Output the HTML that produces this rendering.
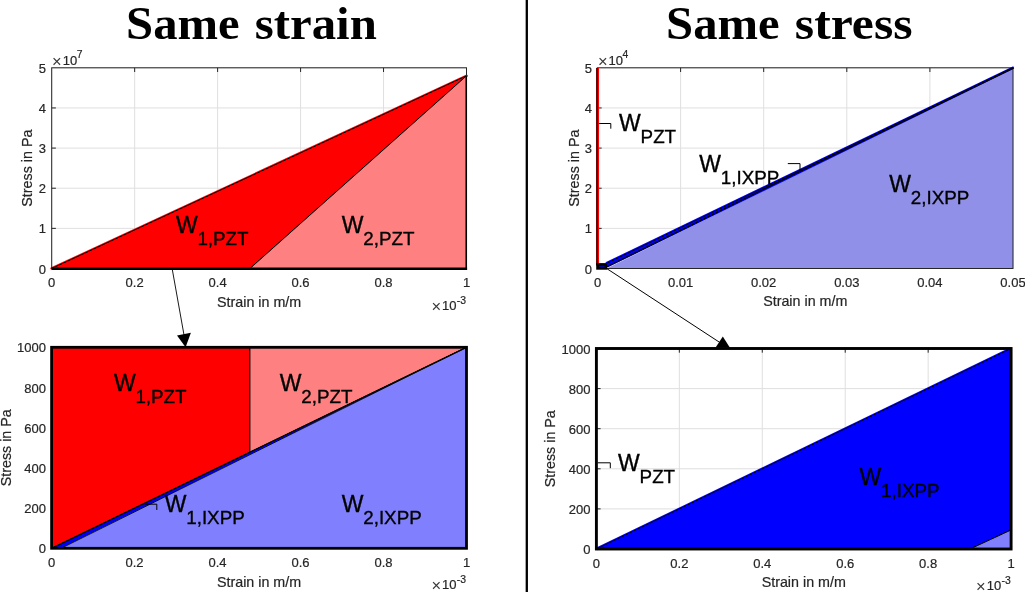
<!DOCTYPE html>
<html><head><meta charset="utf-8"><title>Same strain / Same stress</title>
<style>
html,body{margin:0;padding:0;background:#fff;}
body{width:1025px;height:592px;overflow:hidden;}
svg{display:block;}
.t{font-family:"Liberation Sans",sans-serif;font-size:13px;fill:#262626;stroke:#262626;stroke-width:0.2px;}
.l{font-family:"Liberation Sans",sans-serif;font-size:14.3px;fill:#262626;stroke:#262626;stroke-width:0.2px;}
.w{font-family:"Liberation Sans",sans-serif;font-size:23px;fill:#000;stroke:#000;stroke-width:0.35px;}
.h{font-family:"Liberation Serif","DejaVu Serif",serif;font-weight:bold;font-size:46.5px;fill:#000;}
</style></head><body>
<svg width="1025" height="592" viewBox="0 0 1025 592">
<rect width="1025" height="592" fill="#fff"/>
<text y="38.6" class="h"><tspan x="126.1" textLength="113.6" lengthAdjust="spacingAndGlyphs">Same</tspan> <tspan x="254.8" textLength="122" lengthAdjust="spacingAndGlyphs">strain</tspan></text>
<text y="38.6" class="h"><tspan x="666.1" textLength="113.6" lengthAdjust="spacingAndGlyphs">Same</tspan> <tspan x="794.8" textLength="117.8" lengthAdjust="spacingAndGlyphs">stress</tspan></text>
<rect x="525.65" y="0" width="2.3" height="592" fill="#000"/>
<line x1="51.7" y1="67.8" x2="51.7" y2="268.5" stroke="#dfdfdf" stroke-width="1"/>
<line x1="134.66" y1="67.8" x2="134.66" y2="268.5" stroke="#dfdfdf" stroke-width="1"/>
<line x1="217.62" y1="67.8" x2="217.62" y2="268.5" stroke="#dfdfdf" stroke-width="1"/>
<line x1="300.58" y1="67.8" x2="300.58" y2="268.5" stroke="#dfdfdf" stroke-width="1"/>
<line x1="383.54" y1="67.8" x2="383.54" y2="268.5" stroke="#dfdfdf" stroke-width="1"/>
<line x1="466.5" y1="67.8" x2="466.5" y2="268.5" stroke="#dfdfdf" stroke-width="1"/>
<line x1="51.7" y1="268.5" x2="466.5" y2="268.5" stroke="#dfdfdf" stroke-width="1"/>
<line x1="51.7" y1="228.36" x2="466.5" y2="228.36" stroke="#dfdfdf" stroke-width="1"/>
<line x1="51.7" y1="188.22" x2="466.5" y2="188.22" stroke="#dfdfdf" stroke-width="1"/>
<line x1="51.7" y1="148.08" x2="466.5" y2="148.08" stroke="#dfdfdf" stroke-width="1"/>
<line x1="51.7" y1="107.94" x2="466.5" y2="107.94" stroke="#dfdfdf" stroke-width="1"/>
<line x1="51.7" y1="67.8" x2="466.5" y2="67.8" stroke="#dfdfdf" stroke-width="1"/>
<line x1="134.66" y1="268.5" x2="134.66" y2="264.3" stroke="#262626" stroke-width="1"/>
<line x1="134.66" y1="67.8" x2="134.66" y2="72" stroke="#262626" stroke-width="1"/>
<line x1="217.62" y1="268.5" x2="217.62" y2="264.3" stroke="#262626" stroke-width="1"/>
<line x1="217.62" y1="67.8" x2="217.62" y2="72" stroke="#262626" stroke-width="1"/>
<line x1="300.58" y1="268.5" x2="300.58" y2="264.3" stroke="#262626" stroke-width="1"/>
<line x1="300.58" y1="67.8" x2="300.58" y2="72" stroke="#262626" stroke-width="1"/>
<line x1="383.54" y1="268.5" x2="383.54" y2="264.3" stroke="#262626" stroke-width="1"/>
<line x1="383.54" y1="67.8" x2="383.54" y2="72" stroke="#262626" stroke-width="1"/>
<line x1="51.7" y1="228.36" x2="55.9" y2="228.36" stroke="#262626" stroke-width="1"/>
<line x1="466.5" y1="228.36" x2="462.3" y2="228.36" stroke="#262626" stroke-width="1"/>
<line x1="51.7" y1="188.22" x2="55.9" y2="188.22" stroke="#262626" stroke-width="1"/>
<line x1="466.5" y1="188.22" x2="462.3" y2="188.22" stroke="#262626" stroke-width="1"/>
<line x1="51.7" y1="148.08" x2="55.9" y2="148.08" stroke="#262626" stroke-width="1"/>
<line x1="466.5" y1="148.08" x2="462.3" y2="148.08" stroke="#262626" stroke-width="1"/>
<line x1="51.7" y1="107.94" x2="55.9" y2="107.94" stroke="#262626" stroke-width="1"/>
<line x1="466.5" y1="107.94" x2="462.3" y2="107.94" stroke="#262626" stroke-width="1"/>
<line x1="51.7" y1="268.5" x2="466.5" y2="75.83" stroke="#ff0000" stroke-width="2.6" stroke-linecap="round"/>
<polygon points="51.7,268.5 466.5,75.83 249.97,268.5" fill="#ff0000" stroke="#000" stroke-width="1.0" stroke-linejoin="miter"/>
<polygon points="249.97,268.5 466.5,75.83 466.5,268.5" fill="#ff8080" stroke="#000" stroke-width="1.0" stroke-linejoin="miter"/>
<rect x="51.7" y="67.8" width="414.8" height="200.7" fill="none" stroke="#262626" stroke-width="1"/>
<line x1="51.7" y1="268.8" x2="467.1" y2="268.8" stroke="#000" stroke-width="2.6"/>
<line x1="466.25" y1="76.33" x2="466.25" y2="270" stroke="#000" stroke-width="1.6"/>
<text x="51.7" y="287.3" class="t" text-anchor="middle">0</text>
<text x="134.66" y="287.3" class="t" text-anchor="middle">0.2</text>
<text x="217.62" y="287.3" class="t" text-anchor="middle">0.4</text>
<text x="300.58" y="287.3" class="t" text-anchor="middle">0.6</text>
<text x="383.54" y="287.3" class="t" text-anchor="middle">0.8</text>
<text x="466.5" y="287.3" class="t" text-anchor="middle">1</text>
<text x="46" y="273.5" class="t" text-anchor="end">0</text>
<text x="46" y="233.36" class="t" text-anchor="end">1</text>
<text x="46" y="193.22" class="t" text-anchor="end">2</text>
<text x="46" y="153.08" class="t" text-anchor="end">3</text>
<text x="46" y="112.94" class="t" text-anchor="end">4</text>
<text x="46" y="72.8" class="t" text-anchor="end">5</text>
<text x="259.1" y="306.6" class="l" text-anchor="middle">Strain in m/m</text>
<text transform="translate(32 168.15) rotate(-90)" class="l" text-anchor="middle">Stress in Pa</text>
<text y="64.7" class="t"><tspan x="52.1" dy="2.2" font-size="16.5" stroke-width="0" fill="#3a3a3a">×</tspan><tspan x="62.8" dy="-2.2">10</tspan><tspan x="76.7" dy="-6.8" font-size="10.4">7</tspan></text>
<text y="309.6" class="t"><tspan x="431.4" dy="2.2" font-size="16.5" stroke-width="0" fill="#3a3a3a">×</tspan><tspan x="442.1" dy="-2.2">10</tspan><tspan x="456.8" dy="-6.1" font-size="10.4">-3</tspan></text>
<text x="175.9" y="232.5" class="w">W<tspan dx="-0.2" dy="12" font-size="18.8">1,PZT</tspan></text>
<text x="341.7" y="232.5" class="w">W<tspan dx="-0.2" dy="12" font-size="18.8">2,PZT</tspan></text>
<polygon points="51.6,548.3 51.6,347.3 249.92,347.3 249.92,452.22" fill="#ff0000" stroke="#000" stroke-width="1" stroke-linejoin="miter"/>
<polygon points="249.92,452.22 249.92,347.3 466.5,347.3" fill="#ff8080" stroke="#000" stroke-width="1" stroke-linejoin="miter"/>
<polygon points="51.6,548.3 466.5,347.3 61.14,548.3" fill="#0000ff" stroke="none" stroke-width="0" stroke-linejoin="miter"/>
<polygon points="61.14,548.3 466.5,347.3 466.5,548.3" fill="#8080ff" stroke="none" stroke-width="0" stroke-linejoin="miter"/>
<line x1="61.14" y1="548.3" x2="466.5" y2="347.3" stroke="#000" stroke-width="0.9"/>
<line x1="51.6" y1="548.3" x2="466.5" y2="347.3" stroke="#000" stroke-width="1.3"/>
<rect x="51.6" y="347.3" width="414.9" height="201" fill="none" stroke="#000" stroke-width="2.8"/>
<text x="51.6" y="567.1" class="t" text-anchor="middle">0</text>
<text x="134.58" y="567.1" class="t" text-anchor="middle">0.2</text>
<text x="217.56" y="567.1" class="t" text-anchor="middle">0.4</text>
<text x="300.54" y="567.1" class="t" text-anchor="middle">0.6</text>
<text x="383.52" y="567.1" class="t" text-anchor="middle">0.8</text>
<text x="466.5" y="567.1" class="t" text-anchor="middle">1</text>
<text x="46" y="553.3" class="t" text-anchor="end">0</text>
<text x="46" y="513.1" class="t" text-anchor="end">200</text>
<text x="46" y="472.9" class="t" text-anchor="end">400</text>
<text x="46" y="432.7" class="t" text-anchor="end">600</text>
<text x="46" y="392.5" class="t" text-anchor="end">800</text>
<text x="46" y="352.3" class="t" text-anchor="end">1000</text>
<text x="259.05" y="587" class="l" text-anchor="middle">Strain in m/m</text>
<text transform="translate(10.7 447.8) rotate(-90)" class="l" text-anchor="middle">Stress in Pa</text>
<text y="589.1" class="t"><tspan x="431.4" dy="2.2" font-size="16.5" stroke-width="0" fill="#3a3a3a">×</tspan><tspan x="442.1" dy="-2.2">10</tspan><tspan x="456.8" dy="-6.1" font-size="10.4">-3</tspan></text>
<text x="113.9" y="391.2" class="w">W<tspan dx="-0.2" dy="12" font-size="18.8">1,PZT</tspan></text>
<text x="279.8" y="391.2" class="w">W<tspan dx="-0.2" dy="12" font-size="18.8">2,PZT</tspan></text>
<text x="164.7" y="512.1" class="w">W<tspan dx="-0.2" dy="12" font-size="18.8">1,IXPP</tspan></text>
<text x="341.7" y="512.1" class="w">W<tspan dx="-0.2" dy="12" font-size="18.8">2,IXPP</tspan></text>
<polyline points="144.6,504.2 156.8,504.2 156.8,510" fill="none" stroke="#000" stroke-width="1"/>
<line x1="172.3" y1="269.5" x2="184.2" y2="336" stroke="#000" stroke-width="0.9"/>
<polygon points="185.6,347.2 177.0,335.4 190.9,332.7" fill="#000"/>
<line x1="597.5" y1="67.8" x2="597.5" y2="268.5" stroke="#dfdfdf" stroke-width="1"/>
<line x1="680.6" y1="67.8" x2="680.6" y2="268.5" stroke="#dfdfdf" stroke-width="1"/>
<line x1="763.7" y1="67.8" x2="763.7" y2="268.5" stroke="#dfdfdf" stroke-width="1"/>
<line x1="846.8" y1="67.8" x2="846.8" y2="268.5" stroke="#dfdfdf" stroke-width="1"/>
<line x1="929.9" y1="67.8" x2="929.9" y2="268.5" stroke="#dfdfdf" stroke-width="1"/>
<line x1="1013" y1="67.8" x2="1013" y2="268.5" stroke="#dfdfdf" stroke-width="1"/>
<line x1="597.5" y1="268.5" x2="1013" y2="268.5" stroke="#dfdfdf" stroke-width="1"/>
<line x1="597.5" y1="228.36" x2="1013" y2="228.36" stroke="#dfdfdf" stroke-width="1"/>
<line x1="597.5" y1="188.22" x2="1013" y2="188.22" stroke="#dfdfdf" stroke-width="1"/>
<line x1="597.5" y1="148.08" x2="1013" y2="148.08" stroke="#dfdfdf" stroke-width="1"/>
<line x1="597.5" y1="107.94" x2="1013" y2="107.94" stroke="#dfdfdf" stroke-width="1"/>
<line x1="597.5" y1="67.8" x2="1013" y2="67.8" stroke="#dfdfdf" stroke-width="1"/>
<line x1="680.6" y1="268.5" x2="680.6" y2="264.3" stroke="#262626" stroke-width="1"/>
<line x1="680.6" y1="67.8" x2="680.6" y2="72" stroke="#262626" stroke-width="1"/>
<line x1="763.7" y1="268.5" x2="763.7" y2="264.3" stroke="#262626" stroke-width="1"/>
<line x1="763.7" y1="67.8" x2="763.7" y2="72" stroke="#262626" stroke-width="1"/>
<line x1="846.8" y1="268.5" x2="846.8" y2="264.3" stroke="#262626" stroke-width="1"/>
<line x1="846.8" y1="67.8" x2="846.8" y2="72" stroke="#262626" stroke-width="1"/>
<line x1="929.9" y1="268.5" x2="929.9" y2="264.3" stroke="#262626" stroke-width="1"/>
<line x1="929.9" y1="67.8" x2="929.9" y2="72" stroke="#262626" stroke-width="1"/>
<line x1="597.5" y1="228.36" x2="601.7" y2="228.36" stroke="#262626" stroke-width="1"/>
<line x1="1013" y1="228.36" x2="1008.8" y2="228.36" stroke="#262626" stroke-width="1"/>
<line x1="597.5" y1="188.22" x2="601.7" y2="188.22" stroke="#262626" stroke-width="1"/>
<line x1="1013" y1="188.22" x2="1008.8" y2="188.22" stroke="#262626" stroke-width="1"/>
<line x1="597.5" y1="148.08" x2="601.7" y2="148.08" stroke="#262626" stroke-width="1"/>
<line x1="1013" y1="148.08" x2="1008.8" y2="148.08" stroke="#262626" stroke-width="1"/>
<line x1="597.5" y1="107.94" x2="601.7" y2="107.94" stroke="#262626" stroke-width="1"/>
<line x1="1013" y1="107.94" x2="1008.8" y2="107.94" stroke="#262626" stroke-width="1"/>
<polygon points="606.64,268.5 1013,67.8 1013,268.5" fill="#9090e8" stroke="none" stroke-width="0" stroke-linejoin="miter"/>
<rect x="597.5" y="67.8" width="415.5" height="200.7" fill="none" stroke="#262626" stroke-width="1"/>
<polygon points="605.5,262.3 1013.2,66.3 1014.2,68.6 607.5,267.6" fill="#0000ff"/>
<line x1="605.5" y1="263.9" x2="1013.4" y2="67.4" stroke="#000" stroke-width="0.9"/>
<polyline points="606.5,267.0 800,171.3 1013.4,68.1" fill="none" stroke="#000" stroke-width="1.3"/>
<rect x="596.3" y="67.9" width="2.75" height="197.5" fill="#ff0000"/>
<rect x="596.1" y="67.9" width="1.7" height="197.5" fill="#500000"/>
<rect x="596.2" y="263.1" width="10.9" height="6.6" fill="#000"/>
<rect x="599" y="265.8" width="5.6" height="1" fill="#0000c8"/>
<text x="597.5" y="286.9" class="t" text-anchor="middle">0</text>
<text x="680.6" y="286.9" class="t" text-anchor="middle">0.01</text>
<text x="763.7" y="286.9" class="t" text-anchor="middle">0.02</text>
<text x="846.8" y="286.9" class="t" text-anchor="middle">0.03</text>
<text x="929.9" y="286.9" class="t" text-anchor="middle">0.04</text>
<text x="1013" y="286.9" class="t" text-anchor="middle">0.05</text>
<text x="592" y="273.5" class="t" text-anchor="end">0</text>
<text x="592" y="233.36" class="t" text-anchor="end">1</text>
<text x="592" y="193.22" class="t" text-anchor="end">2</text>
<text x="592" y="153.08" class="t" text-anchor="end">3</text>
<text x="592" y="112.94" class="t" text-anchor="end">4</text>
<text x="592" y="72.8" class="t" text-anchor="end">5</text>
<text x="805.25" y="306.3" class="l" text-anchor="middle">Strain in m/m</text>
<text transform="translate(579 168.15) rotate(-90)" class="l" text-anchor="middle">Stress in Pa</text>
<text y="64.7" class="t"><tspan x="597.9" dy="2.2" font-size="16.5" stroke-width="0" fill="#3a3a3a">×</tspan><tspan x="608.6" dy="-2.2">10</tspan><tspan x="622.5" dy="-6.8" font-size="10.4">4</tspan></text>
<text x="619.1" y="130.9" class="w">W<tspan dx="-0.2" dy="12" font-size="18.8">PZT</tspan></text>
<text x="699.3" y="171.5" class="w">W<tspan dx="-0.2" dy="12" font-size="18.8">1,IXPP</tspan></text>
<text x="889.3" y="191.6" class="w">W<tspan dx="-0.2" dy="12" font-size="18.8">2,IXPP</tspan></text>
<polyline points="598.9,123.5 610.8,123.5 610.8,128.7" fill="none" stroke="#000" stroke-width="1"/>
<polyline points="787.8,163.6 800,163.6 800,170.5" fill="none" stroke="#000" stroke-width="1"/>
<line x1="596.4" y1="348.5" x2="596.4" y2="549" stroke="#dfdfdf" stroke-width="1"/>
<line x1="679.34" y1="348.5" x2="679.34" y2="549" stroke="#dfdfdf" stroke-width="1"/>
<line x1="762.28" y1="348.5" x2="762.28" y2="549" stroke="#dfdfdf" stroke-width="1"/>
<line x1="845.22" y1="348.5" x2="845.22" y2="549" stroke="#dfdfdf" stroke-width="1"/>
<line x1="928.16" y1="348.5" x2="928.16" y2="549" stroke="#dfdfdf" stroke-width="1"/>
<line x1="1011.1" y1="348.5" x2="1011.1" y2="549" stroke="#dfdfdf" stroke-width="1"/>
<line x1="596.4" y1="549" x2="1011.1" y2="549" stroke="#dfdfdf" stroke-width="1"/>
<line x1="596.4" y1="508.9" x2="1011.1" y2="508.9" stroke="#dfdfdf" stroke-width="1"/>
<line x1="596.4" y1="468.8" x2="1011.1" y2="468.8" stroke="#dfdfdf" stroke-width="1"/>
<line x1="596.4" y1="428.7" x2="1011.1" y2="428.7" stroke="#dfdfdf" stroke-width="1"/>
<line x1="596.4" y1="388.6" x2="1011.1" y2="388.6" stroke="#dfdfdf" stroke-width="1"/>
<line x1="596.4" y1="348.5" x2="1011.1" y2="348.5" stroke="#dfdfdf" stroke-width="1"/>
<line x1="679.34" y1="549" x2="679.34" y2="544.8" stroke="#262626" stroke-width="1"/>
<line x1="679.34" y1="348.5" x2="679.34" y2="352.7" stroke="#262626" stroke-width="1"/>
<line x1="762.28" y1="549" x2="762.28" y2="544.8" stroke="#262626" stroke-width="1"/>
<line x1="762.28" y1="348.5" x2="762.28" y2="352.7" stroke="#262626" stroke-width="1"/>
<line x1="845.22" y1="549" x2="845.22" y2="544.8" stroke="#262626" stroke-width="1"/>
<line x1="845.22" y1="348.5" x2="845.22" y2="352.7" stroke="#262626" stroke-width="1"/>
<line x1="928.16" y1="549" x2="928.16" y2="544.8" stroke="#262626" stroke-width="1"/>
<line x1="928.16" y1="348.5" x2="928.16" y2="352.7" stroke="#262626" stroke-width="1"/>
<line x1="596.4" y1="508.9" x2="600.6" y2="508.9" stroke="#262626" stroke-width="1"/>
<line x1="1011.1" y1="508.9" x2="1006.9" y2="508.9" stroke="#262626" stroke-width="1"/>
<line x1="596.4" y1="468.8" x2="600.6" y2="468.8" stroke="#262626" stroke-width="1"/>
<line x1="1011.1" y1="468.8" x2="1006.9" y2="468.8" stroke="#262626" stroke-width="1"/>
<line x1="596.4" y1="428.7" x2="600.6" y2="428.7" stroke="#262626" stroke-width="1"/>
<line x1="1011.1" y1="428.7" x2="1006.9" y2="428.7" stroke="#262626" stroke-width="1"/>
<line x1="596.4" y1="388.6" x2="600.6" y2="388.6" stroke="#262626" stroke-width="1"/>
<line x1="1011.1" y1="388.6" x2="1006.9" y2="388.6" stroke="#262626" stroke-width="1"/>
<line x1="596.4" y1="549" x2="1011.1" y2="348.5" stroke="#0000ff" stroke-width="2.6"/>
<polygon points="596.4,549 1011.1,348.5 1011.1,529.95 970.04,549" fill="#0000ff" stroke="#000" stroke-width="0.9" stroke-linejoin="miter"/>
<polygon points="970.04,549 1011.1,529.95 1011.1,549" fill="#8080ff" stroke="#000" stroke-width="1" stroke-linejoin="miter"/>
<rect x="596.4" y="348.5" width="414.7" height="200.5" fill="none" stroke="#000" stroke-width="2.9"/>
<text x="596.4" y="567.7" class="t" text-anchor="middle">0</text>
<text x="679.34" y="567.7" class="t" text-anchor="middle">0.2</text>
<text x="762.28" y="567.7" class="t" text-anchor="middle">0.4</text>
<text x="845.22" y="567.7" class="t" text-anchor="middle">0.6</text>
<text x="928.16" y="567.7" class="t" text-anchor="middle">0.8</text>
<text x="1011.1" y="567.7" class="t" text-anchor="middle">1</text>
<text x="590.4" y="554" class="t" text-anchor="end">0</text>
<text x="590.4" y="513.9" class="t" text-anchor="end">200</text>
<text x="590.4" y="473.8" class="t" text-anchor="end">400</text>
<text x="590.4" y="433.7" class="t" text-anchor="end">600</text>
<text x="590.4" y="393.6" class="t" text-anchor="end">800</text>
<text x="590.4" y="353.5" class="t" text-anchor="end">1000</text>
<text x="803.75" y="586.5" class="l" text-anchor="middle">Strain in m/m</text>
<text transform="translate(554.6 448.75) rotate(-90)" class="l" text-anchor="middle">Stress in Pa</text>
<text y="589.7" class="t"><tspan x="976.1" dy="2.2" font-size="16.5" stroke-width="0" fill="#3a3a3a">×</tspan><tspan x="986.8" dy="-2.2">10</tspan><tspan x="1001.5" dy="-6.1" font-size="10.4">-3</tspan></text>
<text x="618.1" y="470.6" class="w">W<tspan dx="-0.2" dy="12" font-size="18.8">PZT</tspan></text>
<text x="859.6" y="484.6" class="w">W<tspan dx="-0.2" dy="12" font-size="18.8">1,IXPP</tspan></text>
<polyline points="597.6,462.8 610.3,462.8 610.3,468.2" fill="none" stroke="#000" stroke-width="1"/>
<line x1="606.8" y1="268.6" x2="720" y2="342.6" stroke="#000" stroke-width="1"/>
<polygon points="722.8,336.6 715.6,347.6 729.8,347.6" fill="#000"/>
</svg>
</body></html>
